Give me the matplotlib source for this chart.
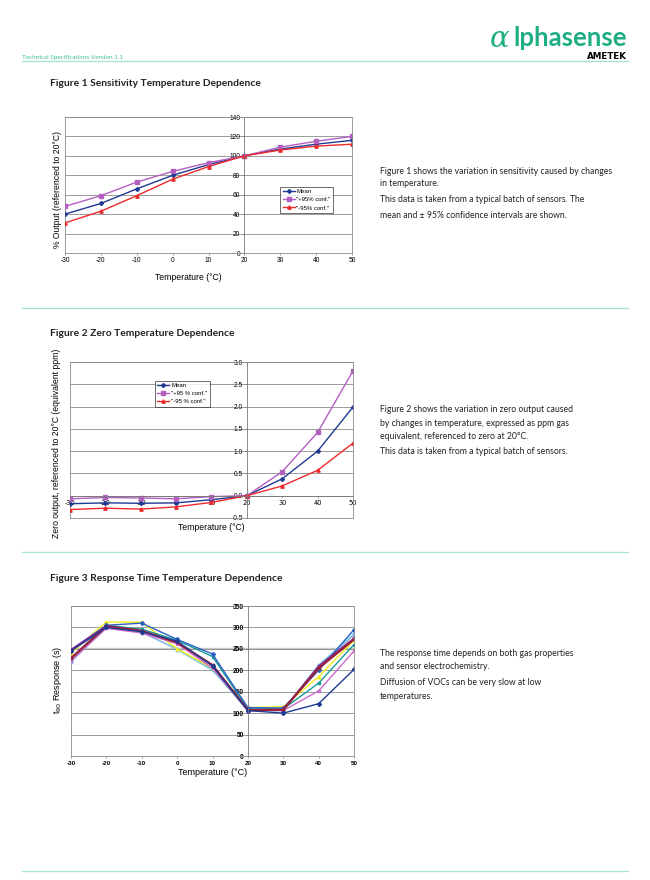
import matplotlib
matplotlib.use("Agg")
import matplotlib.pyplot as plt
from matplotlib.lines import Line2D

plt.rcParams["axes.unicode_minus"] = False

W, H = 650, 880

# ---------------- data ----------------
temps = [-30, -20, -10, 0, 10, 20, 30, 40, 50]

sens_mean = [40, 51, 66, 80, 91, 100, 107, 112, 116]
sens_plus = [48, 59, 73, 84, 93, 100, 109, 115, 120]
sens_minus = [31, 43, 59, 76, 89, 100, 106, 110, 112]
sens_labels = ["Mean", "\"+95% conf.\"", "\"-95% conf.\""]

zero_mean = [-0.18, -0.16, -0.17, -0.16, -0.09, 0.0, 0.38, 1.00, 1.99]
zero_plus = [-0.07, -0.04, -0.05, -0.07, -0.02, 0.0, 0.54, 1.42, 2.80]
zero_minus = [-0.31, -0.28, -0.30, -0.25, -0.15, 0.0, 0.22, 0.57, 1.18]
zero_labels = ["Mean", "\"+95 % conf.\"", "\"-95 % conf.\""]

resp_navy = [245, 300, 290, 268, 210, 106, 100, 122, 202]
resp_magenta = [222, 298, 287, 262, 205, 108, 106, 152, 245]
resp_yellow = [240, 313, 312, 250, 205, 113, 115, 185, 270]
resp_cyan = [220, 300, 290, 248, 200, 108, 108, 212, 285]
resp_purple = [248, 303, 292, 265, 212, 107, 108, 210, 275]
resp_darkred = [228, 303, 292, 265, 212, 107, 108, 205, 272]
resp_teal = [228, 305, 296, 270, 232, 110, 110, 170, 260]
resp_blue = [248, 305, 310, 272, 238, 113, 112, 200, 295]
resp_lightblue = [225, 302, 288, 250, 203, 105, 106, 210, 282]

sens_yticks = [0, 20, 40, 60, 80, 100, 120, 140]
zero_yticks = [-0.5, 0.0, 0.5, 1.0, 1.5, 2.0, 2.5, 3.0]
resp_yticks = [0, 50, 100, 150, 200, 250, 300, 350]

# ---------------- styling ----------------
TEAL = "#3dbf9f"
LINE = "#a6e3d2"
NAVY = "#1f3a93"
PINK = "#b35fc0"
RED = "#ee2a2a"
GRID = "#8c8c8c"
CF = "Liberation Sans"
TF = "Lato"
BODY = 6.2

fig = plt.figure(figsize=(6.5, 8.8), dpi=100)
fig.patch.set_facecolor("white")


def fx(x):
    return x / W


def fy(y):
    return 1 - y / H


def add_ax(x0, y0, x1, y1):
    return fig.add_axes([fx(x0), fy(y1), (x1 - x0) / W, (y1 - y0) / H])


def ptext(x, y, s, **kw):
    fig.text(fx(x), fy(y), s, **kw)


def hline(y, x0=22, x1=628, color=LINE, lw=0.9):
    fig.add_artist(Line2D([fx(x0), fx(x1)], [fy(y), fy(y)], color=color, lw=lw,
                          transform=fig.transFigure))


# ---------------- header ----------------
ptext(22, 57, "Technical Specifications Version 1.1", fontsize=4.6, color=TEAL,
      family=TF, va="center")
hline(61.5)
ptext(490, 39, "α", fontsize=21, color="#1fae84", family="DejaVu Serif",
      style="italic", va="center", ha="left")
ptext(627, 38.5, "lphasense", fontsize=18.5, color="#1fae84", family=TF,
      weight="bold", va="center", ha="right")
ptext(627, 56.5, "AMETEK", fontsize=6.3, color="black", family="DejaVu Sans",
      weight="heavy", va="center", ha="right")


def common_axes(ax, yticks, ylim):
    ax.set_xlim(-30, 50)
    ax.set_ylim(*ylim)
    ax.set_xticks(temps)
    ax.set_yticks(yticks)
    ax.grid(axis="y", color=GRID, lw=0.6)
    ax.set_axisbelow(True)
    for s in ["top", "right", "bottom"]:
        ax.spines[s].set_color(GRID)
        ax.spines[s].set_linewidth(0.6)
    ax.spines["left"].set_position(("data", 20))
    ax.spines["left"].set_color("#777777")
    ax.spines["left"].set_linewidth(0.6)
    ax.axvline(-30, color=GRID, lw=0.6, clip_on=False)
    ax.tick_params(axis="both", labelsize=4.8, length=1.5, width=0.5,
                   color="#777777", pad=1.5)
    for lab in ax.get_xticklabels() + ax.get_yticklabels():
        lab.set_family(CF)


# ---------------- Figure 1 ----------------
ptext(50, 83, "Figure 1 Sensitivity Temperature Dependence", fontsize=7.4,
      family=TF, weight="bold", va="center", color="#222222")
ax1 = add_ax(65, 117, 352, 253)
common_axes(ax1, sens_yticks, (0, 140))
ax1.set_yticklabels([str(v) for v in sens_yticks])
ax1.plot(temps, sens_mean, color=NAVY, marker="D", ms=2, lw=1, label=sens_labels[0])
ax1.plot(temps, sens_plus, color=PINK, marker="s", ms=2.2, lw=1, label=sens_labels[1])
ax1.plot(temps, sens_minus, color=RED, marker="^", ms=2.4, lw=1, label=sens_labels[2])
leg1 = ax1.legend(loc="upper left", bbox_to_anchor=(0.74, 0.51),
                  frameon=True, fancybox=False, edgecolor="black", handlelength=2,
                  borderpad=0.4, labelspacing=0.5, handletextpad=0.3,
                  prop={"family": CF, "size": 4.3})
leg1.get_frame().set_linewidth(0.5)
ptext(57, 190, "% Output (referenced to 20°C)", fontsize=6.2, family=CF,
      rotation=90, va="center", ha="center")
ptext(188, 278, "Temperature (°C)", fontsize=6.2, family=CF, va="center", ha="center")

ptext(380, 171, "Figure 1 shows the variation in sensitivity caused by changes",
      fontsize=BODY, family=TF, va="center", color="#222222")
ptext(380, 184, "in temperature.", fontsize=BODY, family=TF, va="center", color="#222222")
ptext(380, 200, "This data is taken from a typical batch of sensors. The",
      fontsize=BODY, family=TF, va="center", color="#222222")
ptext(380, 215, "mean and ± 95% confidence intervals are shown.",
      fontsize=BODY, family=TF, va="center", color="#222222")
hline(308.5)

# ---------------- Figure 2 ----------------
ptext(50, 334, "Figure 2 Zero Temperature Dependence", fontsize=7.4,
      family=TF, weight="bold", va="center", color="#222222")
ax2 = add_ax(70, 362, 353, 518)
common_axes(ax2, zero_yticks, (-0.5, 3.0))
ax2.set_yticklabels([f"{v:.1f}" for v in zero_yticks])
ax2.spines["bottom"].set_position(("data", 0))
ax2.spines["bottom"].set_color("#777777")
ax2.axhline(-0.5, color=GRID, lw=0.6, clip_on=False)
ax2.plot(temps, zero_mean, color=NAVY, marker="D", ms=2, lw=1, label=zero_labels[0])
ax2.plot(temps, zero_plus, color=PINK, marker="s", ms=2.2, lw=1, label=zero_labels[1])
ax2.plot(temps, zero_minus, color=RED, marker="^", ms=2.4, lw=1, label=zero_labels[2])
leg2 = ax2.legend(loc="upper left", bbox_to_anchor=(0.29, 0.90),
                  frameon=True, fancybox=False, edgecolor="black", handlelength=2,
                  borderpad=0.4, labelspacing=0.5, handletextpad=0.3,
                  prop={"family": CF, "size": 4.3})
leg2.get_frame().set_linewidth(0.5)
ptext(57, 443, "Zero output, referenced to 20°C (equivalent ppm)", fontsize=6.2,
      family=CF, rotation=90, va="center", ha="center")
ptext(211, 528, "Temperature (°C)", fontsize=6.2, family=CF, va="center", ha="center")

ptext(380, 410, "Figure 2 shows the variation in zero output caused",
      fontsize=BODY, family=TF, va="center", color="#222222")
ptext(380, 423, "by changes in temperature, expressed as ppm gas",
      fontsize=BODY, family=TF, va="center", color="#222222")
ptext(380, 436, "equivalent, referenced to zero at 20°C.",
      fontsize=BODY, family=TF, va="center", color="#222222")
ptext(380, 451, "This data is taken from a typical batch of sensors.",
      fontsize=BODY, family=TF, va="center", color="#222222")
hline(551.5)

# ---------------- Figure 3 ----------------
ptext(50, 578, "Figure 3 Response Time Temperature Dependence", fontsize=7.4,
      family=TF, weight="bold", va="center", color="#222222")
ax3 = add_ax(71, 606, 354, 756)
common_axes(ax3, resp_yticks, (0, 350))
ax3.set_yticklabels([str(v) for v in resp_yticks])
ax3.tick_params(axis="x", pad=2.0, labelsize=4.5)
for lab in ax3.get_xticklabels() + ax3.get_yticklabels():
    lab.set_weight("bold")
ax3.axhline(250, color="#c8c8c8", lw=1.6, zorder=0.5)

resp_series = [
    (resp_cyan, "#6fd3ee", "o", 1.0),
    (resp_lightblue, "#8fb8e0", "o", 1.0),
    (resp_yellow, "#f2ec1a", "^", 1.0),
    (resp_magenta, "#cc6acc", "s", 1.0),
    (resp_teal, "#1a9a96", "s", 1.0),
    (resp_blue, "#2a62c4", "D", 1.0),
    (resp_purple, "#8a1e8e", "s", 1.0),
    (resp_darkred, "#9a1f3c", "s", 1.6),
    (resp_navy, "#1f3a93", "D", 1.0),
]
for vals, col, mk, lw in resp_series:
    ax3.plot(temps, vals, color=col, marker=mk, ms=2, lw=lw)

ptext(58, 680, "t$_{90}$ Response (s)", fontsize=6.5, family=CF, rotation=90,
      va="center", ha="center")
ptext(213, 772.5, "Temperature (°C)", fontsize=6.5, family=CF, va="center", ha="center")

ptext(380, 653, "The response time depends on both gas properties",
      fontsize=BODY, family=TF, va="center", color="#222222")
ptext(380, 666, "and sensor electrochemistry.",
      fontsize=BODY, family=TF, va="center", color="#222222")
ptext(380, 682, "Diffusion of VOCs can be very slow at low",
      fontsize=BODY, family=TF, va="center", color="#222222")
ptext(380, 696, "temperatures.",
      fontsize=BODY, family=TF, va="center", color="#222222")
hline(870.5)

fig.savefig("out.png", dpi=100, facecolor="white")
